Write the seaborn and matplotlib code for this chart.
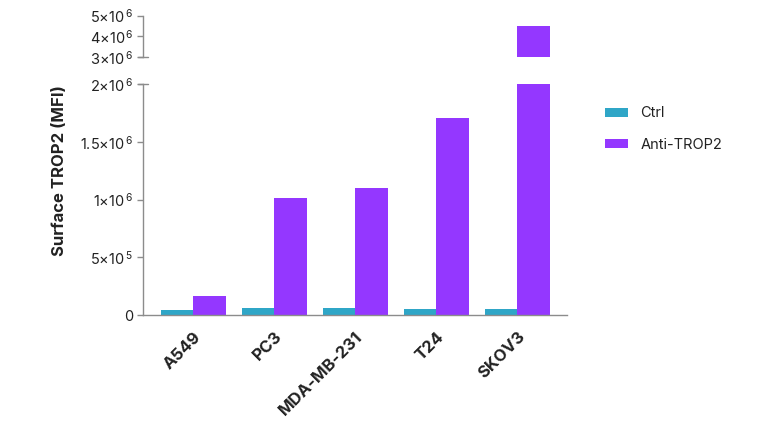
import matplotlib
matplotlib.use("Agg")
import matplotlib.pyplot as plt
import seaborn as sns
import pandas as pd

cell_lines = ["A549", "PC3", "MDA-MB-231", "T24", "SKOV3"]
ctrl = [43000, 58000, 58000, 52000, 52000]
anti_trop2 = [164000, 1013000, 1100000, 1706000, 4510000]
series_names = ["Ctrl", "Anti-TROP2"]
colors = ["#2fa6c7", "#9437ff"]
lower_ticks = [0, 5e5, 1e6, 1.5e6, 2e6]
lower_labels = ["0", r"5×10$^{\,5}$", r"1×10$^{\,6}$", r"1.5×10$^{\,6}$", r"2×10$^{\,6}$"]
upper_ticks = [3e6, 4e6, 5e6]
upper_labels = [r"3×10$^{\,6}$", r"4×10$^{\,6}$", r"5×10$^{\,6}$"]

df = pd.DataFrame({
    "cell": cell_lines * 2,
    "group": [series_names[0]] * len(cell_lines) + [series_names[1]] * len(cell_lines),
    "mfi": ctrl + anti_trop2,
})

sns.set_theme(style="white")
plt.rcParams["font.family"] = ["Inter", "DejaVu Sans"]
plt.rcParams["mathtext.fontset"] = "custom"
plt.rcParams["mathtext.rm"] = "Inter"
plt.rcParams["mathtext.it"] = "Inter"
plt.rcParams["mathtext.bf"] = "Inter:bold"

fig = plt.figure(figsize=(7.68, 4.32), dpi=100)
ax_lo = fig.add_axes([0.186, 0.2708, 0.552, 0.5347])
ax_hi = fig.add_axes([0.186, 0.868, 0.552, 0.096])

spine_col = "#8c8c8c"
for ax in (ax_lo, ax_hi):
    sns.barplot(data=df, x="cell", y="mfi", hue="group", palette=colors,
                width=0.8, saturation=1, ax=ax, legend=(ax is ax_lo),
                linewidth=0, edgecolor="none")
    ax.set_xlim(-0.62, 4.61)
    ax.set_xlabel("")
    ax.set_ylabel("")
    for s in ("top", "right"):
        ax.spines[s].set_visible(False)
    ax.spines["left"].set_color(spine_col)
    ax.spines["bottom"].set_color(spine_col)
    ax.spines["left"].set_linewidth(1.0)
    ax.spines["bottom"].set_linewidth(1.0)
    ax.tick_params(axis="y", length=4, width=1.0, color=spine_col,
                   labelsize=10.5, labelcolor="#222222", pad=3, left=True)

ax_lo.set_ylim(0, 2e6)
ax_lo.set_yticks(lower_ticks)
ax_lo.set_yticklabels(lower_labels)
ax_hi.set_ylim(3e6, 5e6)
ax_hi.set_yticks(upper_ticks)
ax_hi.set_yticklabels(upper_labels)
ax_hi.spines["bottom"].set_visible(False)
ax_hi.set_xticks([])

ax_lo.tick_params(axis="x", length=0, pad=10)
ax_lo.set_xticks(range(len(cell_lines)))
ax_lo.set_xticklabels(cell_lines, rotation=45, ha="right", rotation_mode="anchor",
                      fontsize=12, fontweight="bold", color="#222222")

# break markers: short horizontal caps at the broken ends
for ax, yv in ((ax_hi, 0.0), (ax_lo, 1.0)):
    ax.plot([-0.012, 0.012], [yv, yv], transform=ax.transAxes, color=spine_col,
            lw=1.0, clip_on=False)

fig.text(0.078, 0.605, "Surface TROP2 (MFI)", rotation=90, ha="center", va="center",
         fontsize=12, fontweight="bold", color="#222222")

leg = ax_lo.legend(loc="upper left", bbox_to_anchor=(1.06, 0.96), frameon=False,
                   fontsize=10.5, handlelength=1.55, handleheight=0.55,
                   labelspacing=1.2, handletextpad=0.85)
for t in leg.get_texts():
    t.set_color("#222222")

fig.savefig("out.png", dpi=100)
